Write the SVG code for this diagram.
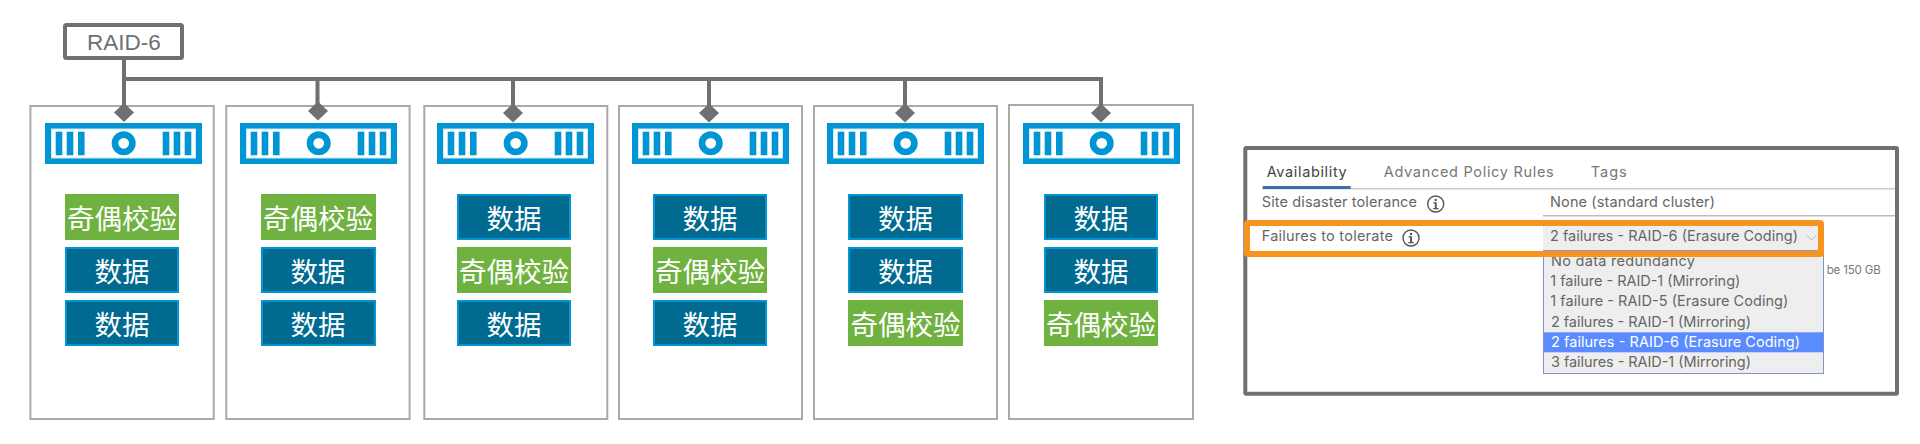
<svg xmlns="http://www.w3.org/2000/svg" width="1920" height="444" viewBox="0 0 1920 444">
<style>
.panel{fill:#fff;stroke:#a9a9a9;stroke-width:2}
.wire{fill:none;stroke:#6f6f74;stroke-width:4}
.dia{fill:#6f6f74}
.data{fill:#006a91;stroke:#0095d3;stroke-width:2}
.par{fill:#70b23f}
.cn{font-family:"Noto Sans CJK SC","Noto Sans",sans-serif;font-size:27.500px;font-weight:400;fill:#fff;text-anchor:middle}
.ui{font-family:Inter,"Noto Sans",sans-serif;font-size:14.500px;fill:#666}
.srvb{fill:#0095d3}
.srvw{fill:#fff;stroke:#cfe8f5;stroke-width:1}
.info{fill:none;stroke:#555;stroke-width:1.400}
</style>
<defs>
<g id="srv">
<rect class="srvb" width="157" height="41"/>
<rect class="srvw" x="6.500" y="6" width="144" height="29"/>
<rect class="srvb" x="10.700" y="8.700" width="6.600" height="23.600"/>
<rect class="srvb" x="21.700" y="8.700" width="6.600" height="23.600"/>
<rect class="srvb" x="33" y="8.700" width="6.600" height="23.600"/>
<rect class="srvb" x="117.700" y="8.700" width="6.600" height="23.600"/>
<rect class="srvb" x="128.700" y="8.700" width="6.600" height="23.600"/>
<rect class="srvb" x="139.700" y="8.700" width="6.600" height="23.600"/>
<circle cx="78.700" cy="20.300" r="8.700" fill="#fff" stroke="#0095d3" stroke-width="6.600"/>
</g>
<g id="inf">
<circle class="info" r="8"/>
<rect x="-0.900" y="-1.500" width="1.900" height="6" fill="#555"/>
<rect x="-2.600" y="4" width="5.400" height="1.300" fill="#555"/>
<rect x="-2.400" y="-1.800" width="2.600" height="1.300" fill="#555"/>
<circle cx="0" cy="-4" r="1.200" fill="#555"/>
</g>
<path id="dmd" class="dia" d="M0-9.500 10 0 0 9.500-10 0Z"/>
</defs>
<rect width="1920" height="444" fill="#fff"/>
<g id="panel-1"><rect class="panel" x="30.400" y="106" width="183.300" height="313"/><use href="#srv" x="45" y="123"/>
<rect class="par" x="65" y="194" width="114" height="46"/><text class="cn" x="122" y="228.500">奇偶校验</text>
<rect class="data" x="66" y="248" width="112" height="44"/><text class="cn" x="122" y="281.500">数据</text>
<rect class="data" x="66" y="301" width="112" height="44"/><text class="cn" x="122" y="334.500">数据</text></g>
<g id="panel-2"><rect class="panel" x="226.300" y="106" width="183.300" height="313"/><use href="#srv" x="240" y="123"/>
<rect class="par" x="261" y="194" width="115" height="46"/><text class="cn" x="318" y="228.500">奇偶校验</text>
<rect class="data" x="262" y="248" width="113" height="44"/><text class="cn" x="318" y="281.500">数据</text>
<rect class="data" x="262" y="301" width="113" height="44"/><text class="cn" x="318" y="334.500">数据</text></g>
<g id="panel-3"><rect class="panel" x="424.300" y="106" width="183" height="313"/><use href="#srv" x="437" y="123"/>
<rect class="data" x="458" y="195" width="112" height="44"/><text class="cn" x="514" y="228.500">数据</text>
<rect class="par" x="457" y="247" width="114" height="46"/><text class="cn" x="514" y="281.500">奇偶校验</text>
<rect class="data" x="458" y="301" width="112" height="44"/><text class="cn" x="514" y="334.500">数据</text></g>
<g id="panel-4"><rect class="panel" x="619" y="106" width="183" height="313"/><use href="#srv" x="632" y="123"/>
<rect class="data" x="654" y="195" width="112" height="44"/><text class="cn" x="710" y="228.500">数据</text>
<rect class="par" x="653" y="247" width="114" height="46"/><text class="cn" x="710" y="281.500">奇偶校验</text>
<rect class="data" x="654" y="301" width="112" height="44"/><text class="cn" x="710" y="334.500">数据</text></g>
<g id="panel-5"><rect class="panel" x="814" y="106" width="183" height="313"/><use href="#srv" x="827" y="123"/>
<rect class="data" x="849" y="195" width="113" height="44"/><text class="cn" x="905.500" y="228.500">数据</text>
<rect class="data" x="849" y="248" width="113" height="44"/><text class="cn" x="905.500" y="281.500">数据</text>
<rect class="par" x="848" y="300" width="115" height="46"/><text class="cn" x="905.500" y="334.500">奇偶校验</text></g>
<g id="panel-6"><rect class="panel" x="1009" y="105" width="184" height="314"/><use href="#srv" x="1023" y="123"/>
<rect class="data" x="1045" y="195" width="112" height="44"/><text class="cn" x="1101" y="228.500">数据</text>
<rect class="data" x="1045" y="248" width="112" height="44"/><text class="cn" x="1101" y="281.500">数据</text>
<rect class="par" x="1044" y="300" width="114" height="46"/><text class="cn" x="1101" y="334.500">奇偶校验</text></g>
<g id="connectors">
<path class="wire" d="M124 58V112M124 79H1103M317.500 79V111M513 79V113M709 79V113M905 79V113M1101 79V113"/>
<use href="#dmd" x="124" y="112.500"/><use href="#dmd" x="318" y="111"/><use href="#dmd" x="513" y="113"/><use href="#dmd" x="709" y="113"/><use href="#dmd" x="905" y="113"/><use href="#dmd" x="1101" y="113"/>
</g>
<g id="raid-6"><rect x="65" y="25" width="117" height="33" rx="1.500" fill="#fff" stroke="#6f6f74" stroke-width="4"/>
<text x="124" y="49.500" font-family="Liberation Sans,Arial,sans-serif" font-size="22.500" fill="#6f6f74" text-anchor="middle">RAID-6</text></g>
<g id="policy-panel">
<rect x="1245.300" y="148" width="651.700" height="245.700" rx="1" fill="#fff" stroke="#6f6f74" stroke-width="4"/>
<text class="ui" x="1266.700" y="177.300" textLength="80" style="fill:#444">Availability</text>
<text class="ui" x="1383.700" y="177.300" textLength="170" style="fill:#777">Advanced Policy Rules</text>
<text class="ui" x="1590.700" y="177.300" textLength="36" style="fill:#777">Tags</text>
<rect x="1262" y="188" width="633" height="1.500" fill="#ccc"/>
<rect x="1262.700" y="186" width="88" height="3" fill="#3a70b0"/>
<text class="ui" x="1261.700" y="207.300" textLength="155.300">Site disaster tolerance</text>
<use href="#inf" x="1435.700" y="204"/>
<text class="ui" x="1550" y="207.300" textLength="165">None (standard cluster)</text>
<rect x="1543" y="215" width="352" height="1.500" fill="#bbb"/>
<text class="ui" x="1261.700" y="241" textLength="131.300">Failures to tolerate</text>
<use href="#inf" x="1411" y="238"/>
<rect x="1543" y="226" width="275" height="24" fill="#eee"/>
<rect x="1543" y="250" width="275" height="1" fill="#8aa0d0"/>
<text class="ui" x="1550" y="241" textLength="248">2 failures - RAID-6 (Erasure Coding)</text>
<path d="M1807 235 1811.700 240 1816.400 235" fill="none" stroke="#bbb" stroke-width="1"/>
<text x="1826.700" y="274" font-family="Inter,sans-serif" font-size="11.500" fill="#777" textLength="54">be 150 GB</text>
<rect x="1543.500" y="251" width="280" height="122.500" fill="#eee" stroke="#7f93c8" stroke-width="1"/>
<rect x="1544" y="332.300" width="279" height="20" fill="#5a8cff"/>
<text class="ui" x="1551" y="266" textLength="144">No data redundancy</text>
<text class="ui" x="1550.300" y="286" textLength="190">1 failure - RAID-1 (Mirroring)</text>
<text class="ui" x="1550.300" y="306" textLength="238">1 failure - RAID-5 (Erasure Coding)</text>
<text class="ui" x="1551" y="326.700" textLength="200">2 failures - RAID-1 (Mirroring)</text>
<text class="ui" x="1551" y="346.700" textLength="249" style="fill:#fff">2 failures - RAID-6 (Erasure Coding)</text>
<text class="ui" x="1551" y="366.700" textLength="200">3 failures - RAID-1 (Mirroring)</text>
<rect x="1247" y="223" width="574" height="31" rx="1" fill="none" stroke="#f7941e" stroke-width="6"/>
</g>
</svg>
